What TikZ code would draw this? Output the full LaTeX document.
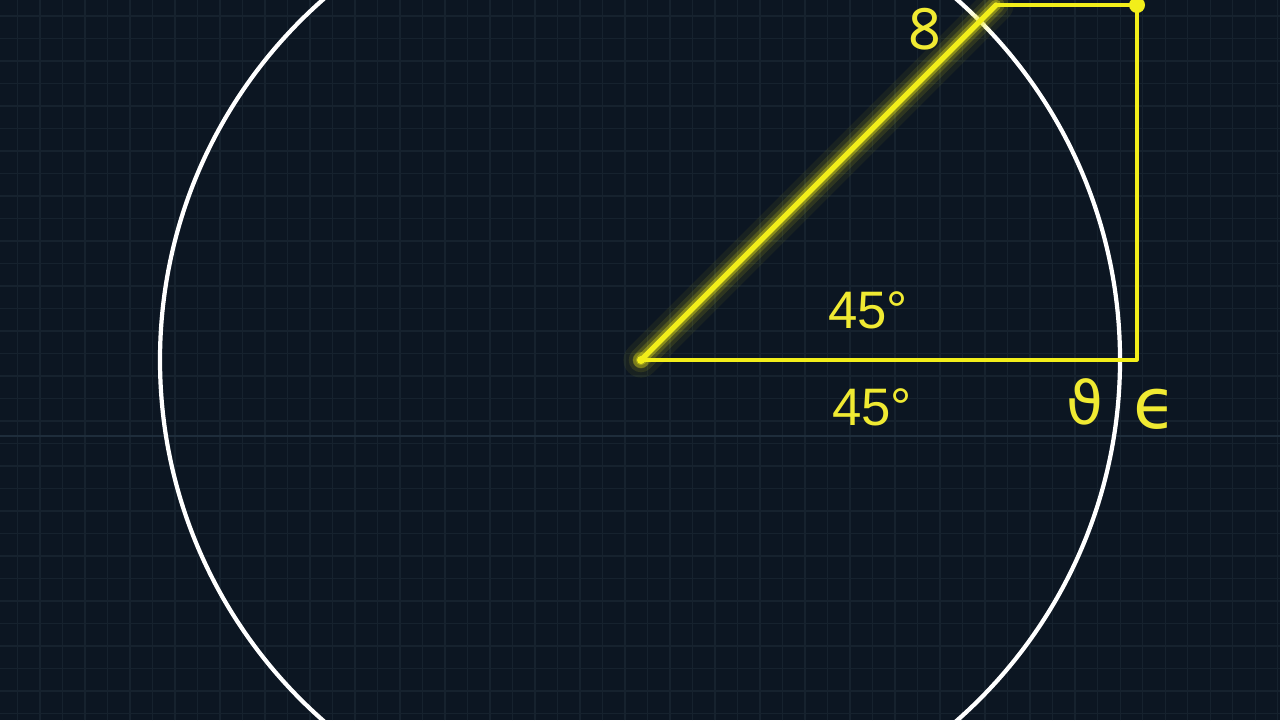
\documentclass[tikz,border=0pt]{standalone}
\usepackage{fontspec}
\setmainfont{Liberation Sans}
\newfontfamily\symfont{DejaVu Sans}
\newfontfamily\benfont[Script=Bengali]{Hind Siliguri}
\usetikzlibrary{positioning,calc}

\definecolor{bgnavy}{HTML}{0C1622}
\definecolor{gridblue}{HTML}{16222E}
\definecolor{gridmajor}{HTML}{1E2D3B}
\definecolor{glowyellow}{HTML}{F2EE1A}
\definecolor{labelyellow}{HTML}{F0EA32}

\tikzset{
  circleline/.style={draw=white, line width=1.2pt},
  sideline/.style={draw=glowyellow, line width=0.9pt, line join=round},
  radiusline/.style={draw=glowyellow, line width=1.5pt, line cap=round},
  glowline/.style={draw=glowyellow, line cap=round, opacity=#1},
  anglelabel/.style={text=labelyellow, font=\fontsize{15}{18}\selectfont, inner sep=0pt},
  pointlabel/.style={text=labelyellow, inner sep=0pt},
}

\begin{document}
\begin{tikzpicture}[x=0.01cm, y=0.01cm]
% background and grid
\fill[bgnavy] (0,0) rectangle (1280,720);
\useasboundingbox (0,0) rectangle (1280,720);
\foreach \gx in {17.5,40,...,1280} \draw[gridblue, line width=0.3pt] (\gx,0) -- (\gx,720);
\foreach \gy in {6.5,29,...,720} \draw[gridblue, line width=0.3pt] (0,\gy) -- (1280,\gy);
\draw[gridmajor, line width=0.4pt] (0,284) -- (1280,284);

% points
\coordinate (O) at (641,360);
\coordinate (D) at (996,715);
\coordinate (T) at (1137,715);
\coordinate (F) at (1137,360);

% unit circle
\draw[circleline] (640,360) circle (480);

% triangle sides
\draw[sideline] (O) -- (F) -- (T) -- (D);

% glowing radius
\draw[glowline=0.06, line width=10pt] (O) -- (D);
\draw[glowline=0.1, line width=7pt] (O) -- (D);
\draw[glowline=0.18, line width=4.8pt] (O) -- (D);
\draw[glowline=0.35, line width=3pt] (O) -- (D);
\draw[radiusline] (O) -- (D);

\fill[glowyellow, opacity=0.25] (O) circle (8);
\fill[glowyellow] (O) circle (4);
\fill[glowyellow] (T) circle (8);

% labels
\node[pointlabel, font=\benfont\fontsize{18}{22}\selectfont] (top) at (925,691) {৪};
\node[anglelabel] (upper) at (868,410) {45°};
\node[anglelabel] (lower) at (872,313) {45°};
\node[pointlabel, font=\symfont\fontsize{17}{20}\selectfont] (circ) at (1085,318) {ϑ};
\node[pointlabel, font=\symfont\fontsize{20}{22}\selectfont] (foot) at (1155,311) {ϵ};
\end{tikzpicture}
\end{document}
